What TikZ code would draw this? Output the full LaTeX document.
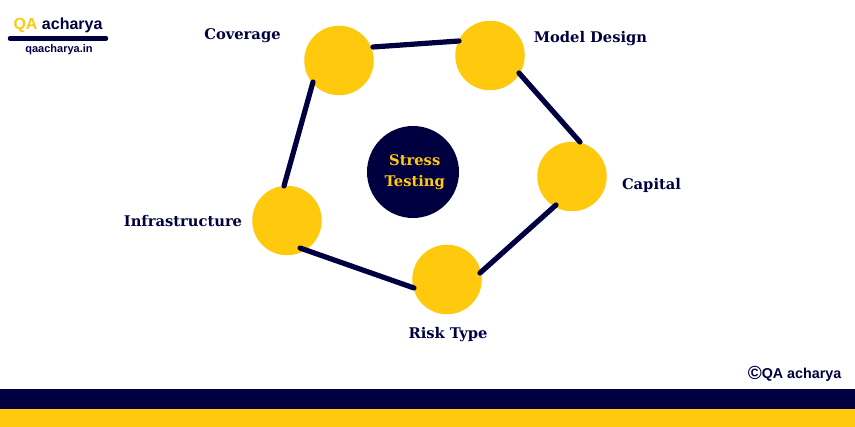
\documentclass[tikz,border=0pt]{standalone}
\usepackage{fontspec}
\setmainfont{DejaVu Serif}
\setsansfont{Liberation Sans}
\definecolor{navy}{HTML}{000040}
\definecolor{gold}{HTML}{FFC90E}
\tikzset{
  hub/.style={circle,fill=gold,minimum size=69.5pt,inner sep=0pt},
  centre/.style={circle,fill=navy,minimum size=92pt,inner sep=0pt,text=gold,align=center,font=\bfseries\fontsize{14.7}{21.5}\selectfont},
  lab/.style={text=navy,inner sep=0pt,font=\bfseries\fontsize{14.7}{16}\selectfont},
  link/.style={draw=navy,line width=5.2pt,line cap=round},
  brand/.style={inner sep=0pt,text=navy,font=\sffamily\bfseries}
}
\begin{document}
\begin{tikzpicture}[x=1pt,y=-1pt]
\useasboundingbox (0,0) rectangle (855,427);
\fill[white] (0,0) rectangle (855,427);
\fill[navy] (0,389) rectangle (855,409);
\fill[gold] (0,409) rectangle (855,427);
\node[hub] (cov) at (339,60.5) {};
\node[hub] (mod) at (490,55.5) {};
\node[hub] (cap) at (572,176.5) {};
\node[hub] (risk) at (447,279.5) {};
\node[hub] (inf) at (287,220.5) {};
\draw[link] ([shift={(34,-13.5)}]cov.center) -- ([shift={(-31,-14.5)}]mod.center);
\draw[link] ([shift={(29,17.5)}]mod.center) -- ([shift={(8,-34.5)}]cap.center);
\draw[link] ([shift={(-16,28.5)}]cap.center) -- ([shift={(33,-6.5)}]risk.center);
\draw[link] ([shift={(-33,8.5)}]risk.center) -- ([shift={(13,27.5)}]inf.center);
\draw[link] ([shift={(-3,-34.5)}]inf.center) -- ([shift={(-26,21.5)}]cov.center);
\node[centre] (st) at (413,172) {\raisebox{-1.5pt}{\hspace*{3.5pt}Stress}\\\raisebox{-1.5pt}{\hspace*{3.5pt}Testing}};
\node[lab] (l1) at (242.5,36) {Coverage};
\node[lab] (l2) at (590.5,38.5) {Model Design};
\node[lab] (l3) at (651.5,185.5) {Capital};
\node[lab] (l4) at (448,334.5) {Risk Type};
\node[lab] (l5) at (183,221.5) {Infrastructure};
\node[brand,font=\sffamily\bfseries\fontsize{16}{18}\selectfont] (qa) at (58,25) {\textcolor{gold}{QA} acharya};
\coordinate (ba) at (10,38.5);
\coordinate (bb) at (106,38.5);
\draw[navy,line width=4.5pt,line cap=round] (ba) -- (bb);
\node[brand,font=\sffamily\bfseries\fontsize{11}{13}\selectfont] (site) at (59,49.5) {qaacharya.in};
\node[brand,font=\sffamily\bfseries\fontsize{14.3}{16}\selectfont] (copy) at (794.5,374) {{\fontsize{19}{16}\selectfont\raisebox{-0.5pt}{©}}QA acharya};
\end{tikzpicture}
\end{document}
